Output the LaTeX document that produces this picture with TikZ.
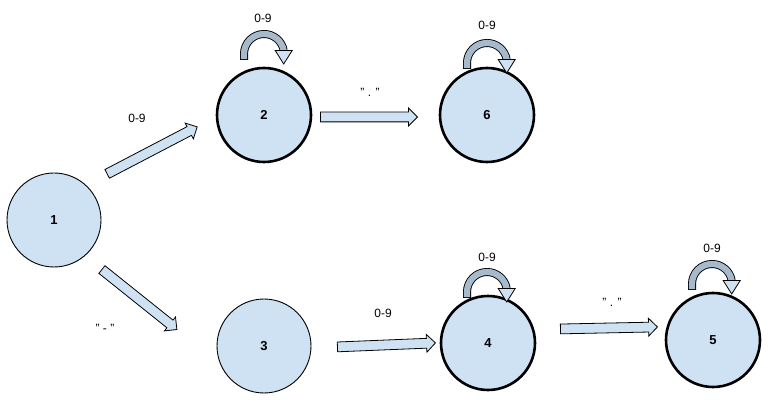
\documentclass[tikz,border=0pt]{standalone}
\usepackage{fontspec}
\setmainfont{Liberation Sans}
\usetikzlibrary{shapes.arrows,calc}
\definecolor{nodec}{HTML}{CFE2F3}
\definecolor{loopc}{HTML}{A7BACB}
\tikzset{
 st/.style={circle,fill=nodec,draw=black,line width=0.9pt,minimum size=94pt,inner sep=0pt,font=\bfseries\fontsize{13}{15}\selectfont},
 acc/.style={st,line width=2.6pt},
 lbl/.style={font=\fontsize{12}{14}\selectfont},
 barrow/.style={single arrow,draw=black,fill=nodec,line width=0.8pt,inner sep=4.5pt,single arrow head extend=4pt,single arrow head indent=0pt}
}
\newcommand{\blk}[2]{\path let \p1=($(#2)-(#1)$), \n1={atan2(\y1,\x1)}, \n2={veclen(\x1,\y1)} in node[barrow,rotate=\n1,minimum height=\n2] at ($(#1)!0.5!(#2)$) {};}
\newcommand{\selfloop}[2]{% center x, base y
 \draw[line width=8pt,black] (#1-20,#2) -- (#1-20,#2+6) arc[start angle=180,end angle=10,radius=20];
 \draw[line width=6.2pt,loopc] (#1-20,#2+0.8) -- (#1-20,#2+6) arc[start angle=180,end angle=10,radius=20];
 \filldraw[fill=nodec,draw=black,line width=0.8pt] ($(#1+19.7,#2+9.5)+(-8.5,0)$) -- ++(17,0) -- ($(#1+19.7,#2-4)$) -- cycle;
}
\begin{document}
\begin{tikzpicture}[x=1pt,y=1pt]
\useasboundingbox (0,0) rectangle (779,407);
\node[st] (n1) at (54,187) {1};
\node[acc] (n2) at (264,292) {2};
\node[acc] (n6) at (487,292) {6};
\node[st] (n3) at (264,61) {3};
\node[acc] (n4) at (488,64) {4};
\node[acc] (n5) at (713,67) {5};
\coordinate (a1) at (105,232); \coordinate (b1) at (195,279);
\coordinate (a2) at (100,139); \coordinate (b2) at (175,79);
\coordinate (a3) at (318,290); \coordinate (b3) at (415,290);
\coordinate (a4) at (335,60); \coordinate (b4) at (433,64);
\coordinate (a5) at (558,78); \coordinate (b5) at (655,80);
\blk{a1}{b1}\blk{a2}{b2}\blk{a3}{b3}\blk{a4}{b4}\blk{a5}{b5}
\selfloop{264}{347}
\selfloop{487}{338}
\selfloop{487}{109}
\selfloop{712}{117}
\node[lbl] at (137,289) {0-9};
\node[lbl] at (105,79) {" - "};
\node[lbl] at (370,315) {" . "};
\node[lbl] at (383,94) {0-9};
\node[lbl] at (612,105) {" . "};
\node[lbl] at (263,389) {0-9};
\node[lbl] at (487,382) {0-9};
\node[lbl] at (487,150) {0-9};
\node[lbl] at (712,159) {0-9};
\end{tikzpicture}
\end{document}
